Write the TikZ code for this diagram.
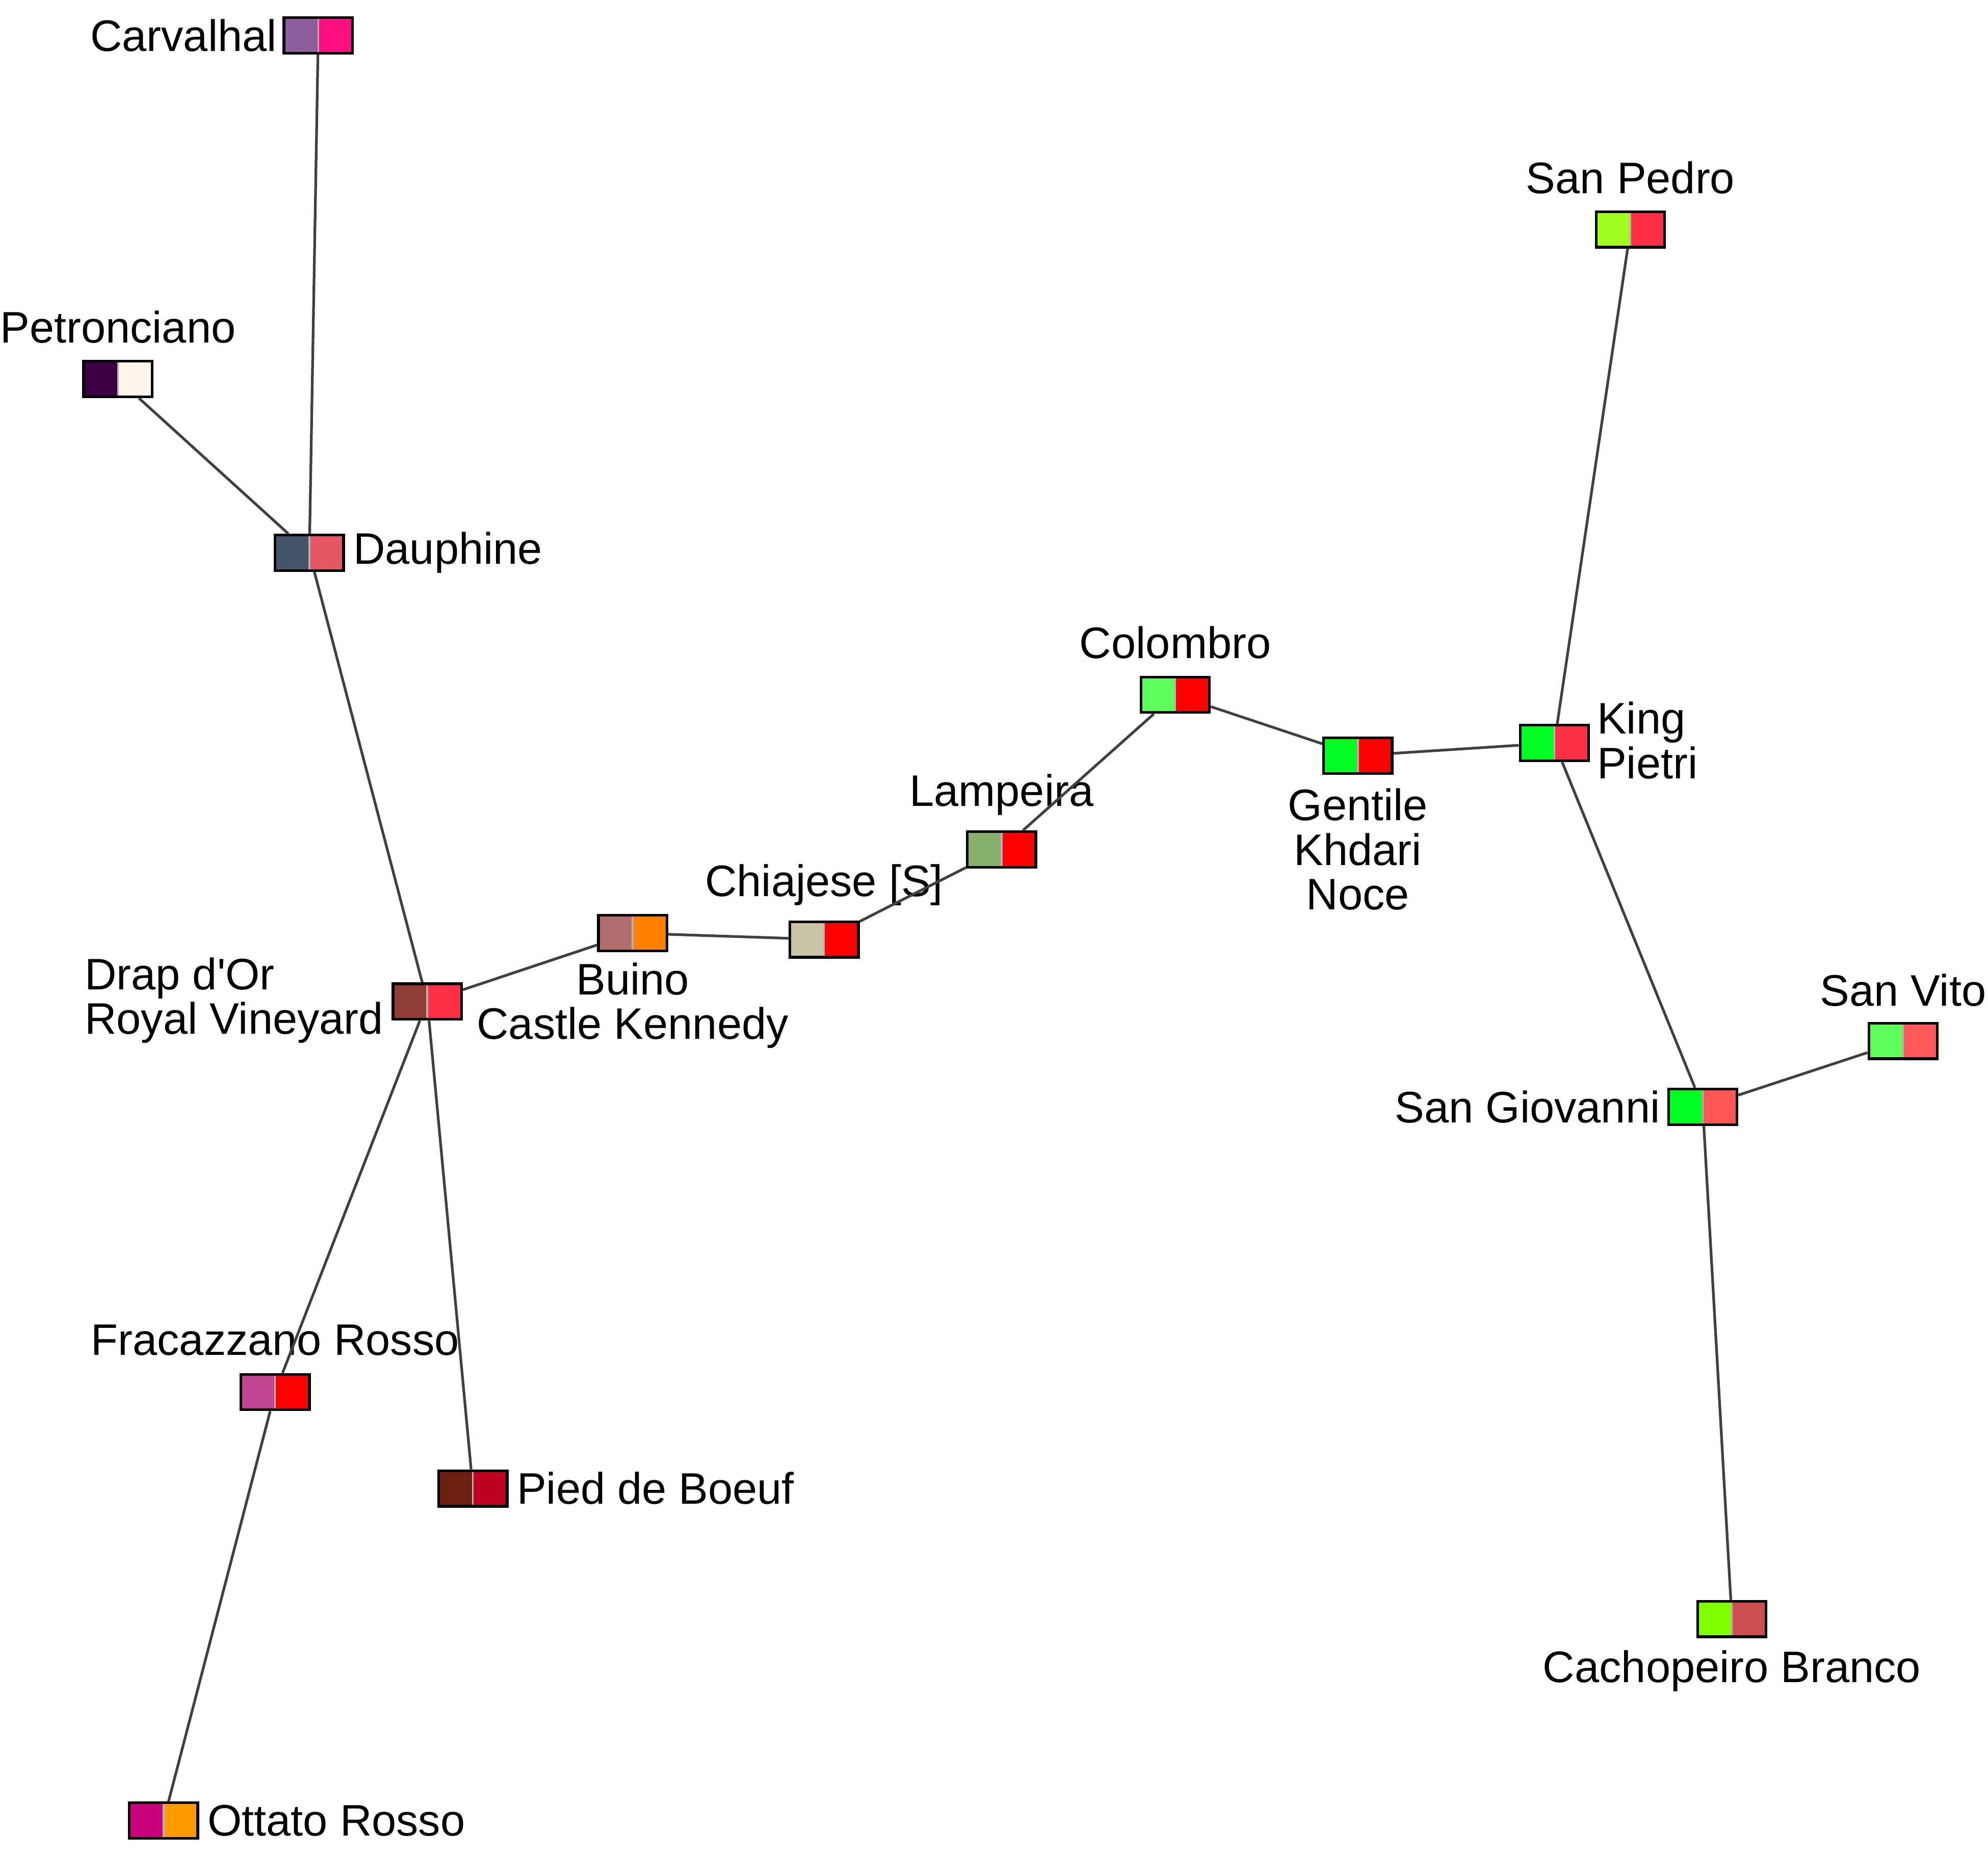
\documentclass[tikz,border=0pt]{standalone}
\usepackage{fontspec}
\setmainfont{Liberation Sans}
\begin{document}
\begin{tikzpicture}[x=0.01cm,y=-0.01cm,
  bx/.style 2 args={draw=black,line width=0.6pt,minimum width=0.54cm,minimum height=0.28cm,inner sep=0pt,
    path picture={\fill[fill=#1] (path picture bounding box.south west) rectangle (path picture bounding box.north);
      \fill[fill=#2] (path picture bounding box.south) rectangle (path picture bounding box.north east);
      \draw[line width=0.4pt,white!70!black] (path picture bounding box.south) -- (path picture bounding box.north);}},
  lb/.style={font=\fontsize{9.9pt}{10pt}\selectfont,inner sep=0pt,align=center},
  ed/.style={draw=black!75,line width=0.6pt}]
\useasboundingbox (0,0) rectangle (1568,1466);
\definecolor{a1}{HTML}{8E5E9A}\definecolor{a2}{HTML}{FF0F7F}
\definecolor{b1}{HTML}{3D0040}\definecolor{b2}{HTML}{FFF5EB}
\definecolor{c1}{HTML}{445569}\definecolor{c2}{HTML}{E45866}
\definecolor{d1}{HTML}{8E3E35}\definecolor{d2}{HTML}{FF3045}
\definecolor{e1}{HTML}{B26E6C}\definecolor{e2}{HTML}{FF8000}
\definecolor{f1}{HTML}{C9C3A8}\definecolor{f2}{HTML}{FF0000}
\definecolor{g1}{HTML}{86B06C}
\definecolor{h1}{HTML}{5CFF5C}
\definecolor{i1}{HTML}{00FF20}
\definecolor{j1}{HTML}{A0FF20}
\definecolor{k2}{HTML}{FF5555}
\definecolor{l2}{HTML}{FF5858}
\definecolor{m1}{HTML}{80FF00}\definecolor{m2}{HTML}{CC5050}
\definecolor{n1}{HTML}{C04590}
\definecolor{o1}{HTML}{6E2010}\definecolor{o2}{HTML}{C00020}
\definecolor{p1}{HTML}{C8007A}\definecolor{p2}{HTML}{FF9900}
\node[bx={a1}{a2}] (car) at (251,28) {};
\node[bx={b1}{b2}] (pet) at (93,299) {};
\node[bx={c1}{c2}] (dau) at (244,436) {};
\node[bx={d1}{d2}] (dra) at (337,790) {};
\node[bx={e1}{e2}] (bui) at (499,736) {};
\node[bx={f1}{f2}] (chi) at (650,741) {};
\node[bx={g1}{f2}] (lam) at (790,670) {};
\node[bx={h1}{f2}] (col) at (927,548) {};
\node[bx={i1}{f2}] (gen) at (1071,596) {};
\node[bx={i1}{d2}] (kin) at (1226,586) {};
\node[bx={j1}{d2}] (spe) at (1286,181) {};
\node[bx={i1}{k2}] (sgi) at (1343,873) {};
\node[bx={h1}{l2}] (svi) at (1501,821) {};
\node[bx={m1}{m2}] (cac) at (1366,1277) {};
\node[bx={n1}{f2}] (fra) at (217,1098) {};
\node[bx={o1}{o2}] (pie) at (373,1174) {};
\node[bx={p1}{p2}] (ott) at (129,1436) {};
\node[lb,anchor=east] (tcar) at (219,28) {Carvalhal};
\node[lb] (tpet) at (93,258) {Petronciano};
\node[lb,anchor=west] (tdau) at (278,436) {Dauphine};
\node[lb,anchor=east,align=left] (tdra) at (303,789) {Drap d\textquotesingle Or\\Royal Vineyard};
\node[lb] (tbui) at (499,793) {Buino\\Castle Kennedy};
\node[lb] (tchi) at (650,698) {Chiajese [S]};
\node[lb] (tlam) at (790,627) {Lampeira};
\node[lb] (tcol) at (927,507) {Colombro};
\node[lb] (tgen) at (1071,670) {Gentile\\Khdari\\Noce};
\node[lb,anchor=west,align=left] (tkin) at (1259,584) {King\\Pietri};
\node[lb] (tspe) at (1286,140) {San Pedro};
\node[lb,anchor=east] (tsgi) at (1310,873) {San Giovanni};
\node[lb] (tsvi) at (1501,781) {San Vito};
\node[lb] (tcac) at (1366,1318) {Cachopeiro Branco};
\node[lb] (tfra) at (217,1057) {Fracazzano Rosso};
\node[lb,anchor=west] (tpie) at (407,1174) {Pied de Boeuf};
\node[lb,anchor=west] (tott) at (163,1436) {Ottato Rosso};
\draw[ed] (car) -- (dau);
\draw[ed] (pet) -- (dau);
\draw[ed] (dau) -- (dra);
\draw[ed] (dra) -- (bui);
\draw[ed] (dra) -- (fra);
\draw[ed] (dra) -- (pie);
\draw[ed] (fra) -- (ott);
\draw[ed] (bui) -- (chi);
\draw[ed] (chi) -- (lam);
\draw[ed] (lam) -- (col);
\draw[ed] (col) -- (gen);
\draw[ed] (gen) -- (kin);
\draw[ed] (kin) -- (spe);
\draw[ed] (kin) -- (sgi);
\draw[ed] (sgi) -- (svi);
\draw[ed] (sgi) -- (cac);
\end{tikzpicture}
\end{document}
